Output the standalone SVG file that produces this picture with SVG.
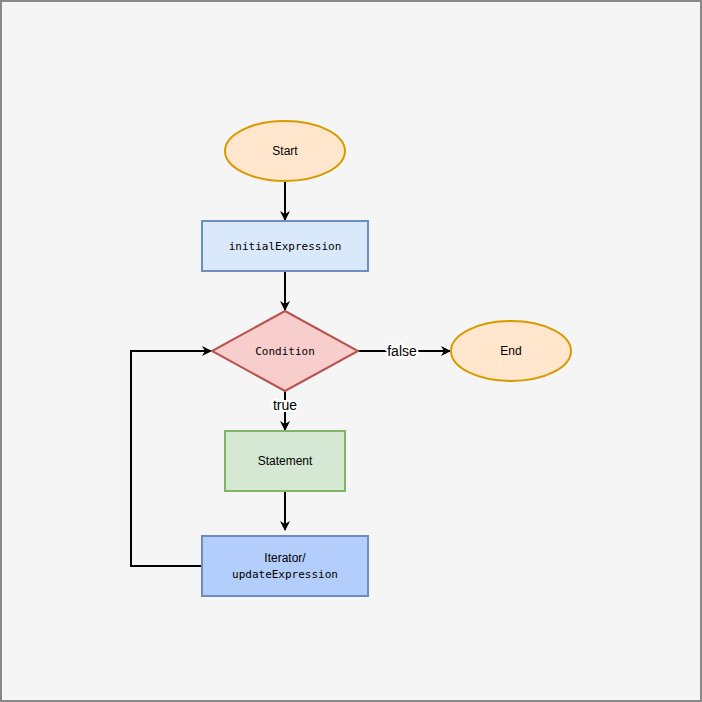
<svg xmlns="http://www.w3.org/2000/svg" width="702" height="702" viewBox="0 0 702 702">
<defs>
<style>
.t{font-family:"Liberation Sans",Arial,sans-serif;font-size:12px;fill:#000;text-anchor:middle;dominant-baseline:central}
.m{font-family:"DejaVu Sans Mono","Liberation Mono",monospace;font-size:11px;fill:#000;text-anchor:middle;dominant-baseline:central}
.l{font-family:"Liberation Sans",Arial,sans-serif;font-size:14px;fill:#000;text-anchor:middle;dominant-baseline:central}
.c{fill:none;stroke:#000;stroke-width:2;marker-end:url(#a)}
</style>
<marker id="a" viewBox="0 0 10 10" refX="9" refY="5" markerWidth="5" markerHeight="5" orient="auto" markerUnits="strokeWidth">
<path d="M0,0 L10,5 L0,10 L3,5 Z" fill="#000"/>
</marker>
</defs>
<rect x="1" y="1" width="700" height="700" fill="#f5f5f5" stroke="#888" stroke-width="2"/>
<g id="connectors">
<path class="c" d="M285,182 V220"/>
<path class="c" d="M285,272 V310"/>
<path class="c" d="M358,351 H450"/>
<path class="c" d="M285,391 V430"/>
<path class="c" d="M285,492 V530"/>
<path class="c" d="M202,566 H131 V351 H211"/>
<rect x="387" y="342" width="30" height="18" fill="#f5f5f5" opacity="0"/>
<text class="l" x="402" y="351" style="paint-order:stroke" stroke="#fff" stroke-width="4">false</text>
<text class="l" x="285" y="405" style="paint-order:stroke" stroke="#fff" stroke-width="4">true</text>
</g>
<g id="start"><ellipse cx="285" cy="151" rx="60" ry="30" fill="#ffe6cc" stroke="#d79b00" stroke-width="2"/><text class="t" x="285" y="151">Start</text></g>
<g id="init"><rect x="202" y="221" width="166" height="50" fill="#dae8fc" stroke="#6c8ebf" stroke-width="2"/><text class="m" x="285" y="246">initialExpression</text></g>
<g id="cond"><polygon points="285,311 358,351 285,391 212,351" fill="#f8cecc" stroke="#b85450" stroke-width="2"/><text class="m" x="285" y="351">Condition</text></g>
<g id="end"><ellipse cx="511" cy="351" rx="60" ry="30" fill="#ffe6cc" stroke="#d79b00" stroke-width="2"/><text class="t" x="511" y="351">End</text></g>
<g id="stmt"><rect x="225" y="431" width="120" height="60" fill="#d5e8d4" stroke="#82b366" stroke-width="2"/><text class="t" x="285" y="461">Statement</text></g>
<g id="iter"><rect x="202" y="536" width="166" height="60" fill="#b3cefa" stroke="#6c8ebf" stroke-width="2"/><text class="t" x="285" y="558">Iterator/</text><text class="m" x="285" y="574">updateExpression</text></g>
</svg>
